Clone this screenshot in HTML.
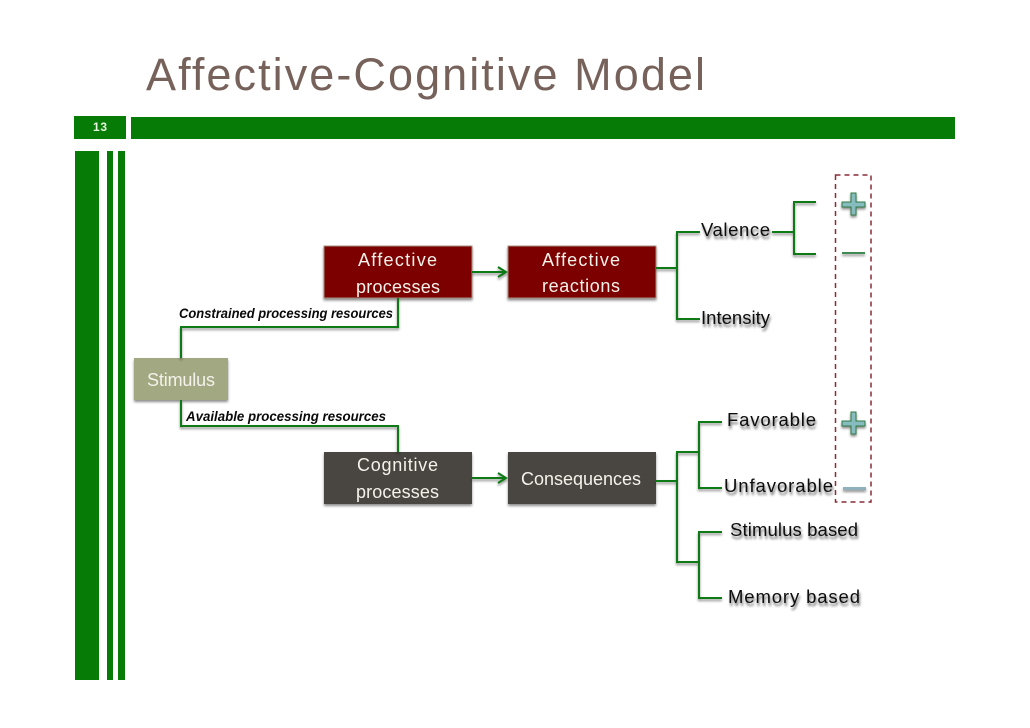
<!DOCTYPE html>
<html>
<head>
<meta charset="utf-8">
<style>
html,body{margin:0;padding:0;background:#fff;width:1030px;height:728px;overflow:hidden}
svg{display:block}
text{font-family:"Liberation Sans",sans-serif}
.w{fill:#f4f2ea;font-size:18px}
.k{fill:#111;font-size:18.5px}
.l{fill:#0a0a0a;font-size:13.5px;font-weight:bold;font-style:italic}
.c{fill:none;stroke:#0f7a14;stroke-width:2}
</style>
</head>
<body>
<svg width="1030" height="728" viewBox="0 0 1030 728" xmlns="http://www.w3.org/2000/svg">
<defs>
<filter id="s" x="-20%" y="-40%" width="140%" height="200%"><feDropShadow dx="1" dy="3" stdDeviation="1.2" flood-color="#000" flood-opacity=".6"/></filter>
<filter id="b" x="-10%" y="-20%" width="120%" height="140%"><feDropShadow dx="0" dy="2" stdDeviation="1.2" flood-color="#000" flood-opacity=".45"/></filter>
</defs>
<rect width="1030" height="728" fill="#fff"/>

<text x="146" y="90" font-size="45" fill="#76625a" textLength="559">Affective-Cognitive Model</text>

<rect x="74" y="116" width="52" height="23" fill="#067c06"/>
<text x="93" y="131" font-size="12" font-weight="bold" fill="#e8f5e0" textLength="14">13</text>
<rect x="131" y="117" width="824" height="22" fill="#067c06"/>
<rect x="75" y="151" width="24" height="529" fill="#067c06"/>
<rect x="107" y="151" width="6" height="529" fill="#067c06"/>
<rect x="118" y="151" width="7" height="529" fill="#067c06"/>

<g filter="url(#b)">
<rect x="134" y="358" width="94" height="42" fill="#a2a882"/>
<rect x="324" y="246" width="148" height="52" fill="#7c0000" stroke="#a89080" stroke-width="1"/>
<rect x="508" y="246" width="148" height="52" fill="#7c0000" stroke="#a89080" stroke-width="1"/>
<rect x="324" y="452" width="148" height="52" fill="#4a4441"/>
<rect x="508" y="452" width="148" height="52" fill="#4a4441"/>
</g>

<text class="w" x="147" y="386" textLength="68">Stimulus</text>
<text class="w" x="358" y="266" textLength="79">Affective</text>
<text class="w" x="356" y="293" textLength="84">processes</text>
<text class="w" x="542" y="266" textLength="78">Affective</text>
<text class="w" x="542" y="292" textLength="78">reactions</text>
<text class="w" x="357" y="471" textLength="81">Cognitive</text>
<text class="w" x="356" y="498" textLength="83">processes</text>
<text class="w" x="521" y="485" textLength="120">Consequences</text>

<g filter="url(#b)">
<path class="c" d="M181 358V327H398V298"/>
<path class="c" d="M181 400V426H398V452"/>
<path class="c" d="M472 272H505"/>
<path class="c" d="M498 267L506 272L498 277"/>
<path class="c" d="M472 478H505"/>
<path class="c" d="M498 473L506 478L498 483"/>
<path class="c" d="M656 268H677M700 232H677V319H700"/>
<path class="c" d="M772 232H794M816 202H794V254H816"/>
<path class="c" d="M656 481H677M699 452H677V562H699"/>
<path class="c" d="M722 422H699V488H722"/>
<path class="c" d="M722 532H699V598H722"/>
</g>

<text class="l" x="179" y="318" textLength="214" lengthAdjust="spacingAndGlyphs">Constrained processing resources</text>
<text class="l" x="186" y="421" textLength="200" lengthAdjust="spacingAndGlyphs">Available processing resources</text>

<g filter="url(#s)">
<text class="k" x="701" y="236" textLength="69">Valence</text>
<text class="k" x="701" y="324" textLength="69">Intensity</text>
<text class="k" x="727" y="426" textLength="89">Favorable</text>
<text class="k" x="724" y="492" textLength="109">Unfavorable</text>
<text class="k" x="730" y="536" textLength="128">Stimulus based</text>
<text class="k" x="728" y="603" textLength="132">Memory based</text>
</g>

<rect x="835.5" y="175" width="35.5" height="327" fill="none" stroke="#8a2c38" stroke-width="1.5" stroke-dasharray="5 4"/>

<g filter="url(#b)">
<path d="M851 193H856V202H865V207H856V215H851V207H842V202H851Z" fill="#86bcc0" stroke="#2f7a45" stroke-width="1"/>
<rect x="842" y="252" width="23" height="2" fill="#3f8a52"/>
<path d="M851 412H856V421H865V426H856V434H851V426H842V421H851Z" fill="#86bcc0" stroke="#2f7a45" stroke-width="1"/>
<rect x="843" y="487" width="23" height="3" fill="#8fb0bc"/>
</g>
</svg>
</body>
</html>
